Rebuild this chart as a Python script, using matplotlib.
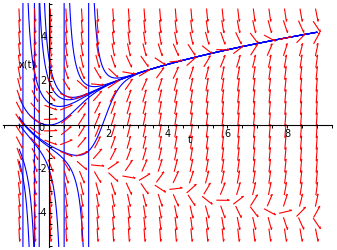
import numpy as np
import matplotlib
matplotlib.use("Agg")
import matplotlib.pyplot as plt
from matplotlib.collections import LineCollection
from matplotlib.patches import Rectangle

# direction field of  x'(t) = 2t - x(t)^2  on a 20x20 grid
T_GRID = np.linspace(-1, 9, 20)
X_GRID = np.linspace(-5, 5, 20)
X0_VALUES = [-2, -1, -0.9, 0, 1, 2, 3]      # initial conditions x(0)
T_RANGE = (-1, 9)
T_TICKLABELS = [2, 4, 6, 8]
X_TICKLABELS = [4, 2, -2, -4]

XLIM = (-1.647, 9.681)
YLIM = (-5.682, 5.682)
W, H = 337, 250
SX = W / (XLIM[1] - XLIM[0])     # px per t unit
SY = H / (YLIM[1] - YLIM[0])     # px per x unit
LW = 0.8


def slope(t, x):
    return 2 * t - x ** 2


def solve(x0, t_end, h=0.004):
    # Riccati -> linear: x = u'/u, u'' = 2 t u  (passes through the poles)
    n = int(round(abs(t_end) / h))
    step = h if t_end > 0 else -h
    ts = np.empty(n + 1); us = np.empty(n + 1); vs = np.empty(n + 1)
    t, u, v = 0.0, 1.0, float(x0)
    ts[0], us[0], vs[0] = t, u, v
    f = lambda t, u, v: (v, 2 * t * u)
    for i in range(1, n + 1):
        k1 = f(t, u, v)
        k2 = f(t + step / 2, u + step / 2 * k1[0], v + step / 2 * k1[1])
        k3 = f(t + step / 2, u + step / 2 * k2[0], v + step / 2 * k2[1])
        k4 = f(t + step, u + step * k3[0], v + step * k3[1])
        u += step / 6 * (k1[0] + 2 * k2[0] + 2 * k3[0] + k4[0])
        v += step / 6 * (k1[1] + 2 * k2[1] + 2 * k3[1] + k4[1])
        t += step
        ts[i], us[i], vs[i] = t, u, v
    return ts, vs / us


fig = plt.figure(figsize=(W / 100, H / 100), dpi=100)
ax = fig.add_axes([0, 0, 1, 1])
ax.set_xlim(*XLIM); ax.set_ylim(*YLIM)
ax.axis("off")
clip = Rectangle((-1.55, -5.55), 11.05, 11.1, transform=ax.transData)

# solution curves
for x0 in X0_VALUES:
    tb, xb = solve(x0, T_RANGE[0])
    tf, xf = solve(x0, T_RANGE[1])
    t = np.concatenate([tb[::-1], tf[1:]])
    x = np.concatenate([xb[::-1], xf[1:]])
    x = np.clip(x, -1e4, 1e4)
    ln, = ax.plot(t, x, color="#0000ff", lw=LW, zorder=2)
    ln.set_clip_path(clip)

# arrows (thin, with a small one-sided barb at the head)
L, B = 13.0, 2.5
segs = []
for t in T_GRID:
    for x in X_GRID:
        px, py = SX, slope(t, x) * SY
        n = np.hypot(px, py); px, py = px / n, py / n
        t0, x0 = t - px * L / 2 / SX, x - py * L / 2 / SY
        t1, x1 = t + px * L / 2 / SX, x + py * L / 2 / SY
        segs.append([(t0, x0), (t1, x1)])
        a = np.deg2rad(155)
        bx = px * np.cos(a) - py * np.sin(a)
        by = px * np.sin(a) + py * np.cos(a)
        segs.append([(t1, x1), (t1 + bx * B / SX, x1 + by * B / SY)])
ax.add_collection(LineCollection(segs, colors="#ff0000", lw=LW, zorder=3))

# axes
ax.plot([-1.55, 9.5], [0, 0], color="black", lw=LW, zorder=4)
ax.plot([0, 0], [-5.55, 5.55], color="black", lw=LW, zorder=4)
tk = np.arange(-1.5, 9.51, 0.5)
ax.add_collection(LineCollection([[(v, 0), (v, -3 / SY)] for v in tk if v != 0],
                                 colors="black", lw=0.7, zorder=4))
xk = np.arange(-5.5, 5.51, 0.5)
ax.add_collection(LineCollection([[(0, v), (3 / SX, v)] for v in xk if v != 0],
                                 colors="black", lw=0.7, zorder=4))

fs = 7
for v in T_TICKLABELS:
    ax.text(v, -9 / SY, str(v), ha="center", va="center", fontsize=fs, zorder=5)
for v in X_TICKLABELS:
    ax.text(-2 / SX, v, str(v) if v > 0 else "-" + str(-v), ha="right", va="center",
            fontsize=fs, zorder=5)
ax.text(-8 / SX, -3 / SY, "0", ha="center", va="center", fontsize=fs, zorder=5)
ax.text(-22 / SX, 2.73, "x(t)", ha="center", va="center", fontsize=fs, zorder=5)
ax.text(4.74, -0.68, "t", ha="center", va="center", fontsize=fs, zorder=5)

fig.savefig("out.png", dpi=100)
